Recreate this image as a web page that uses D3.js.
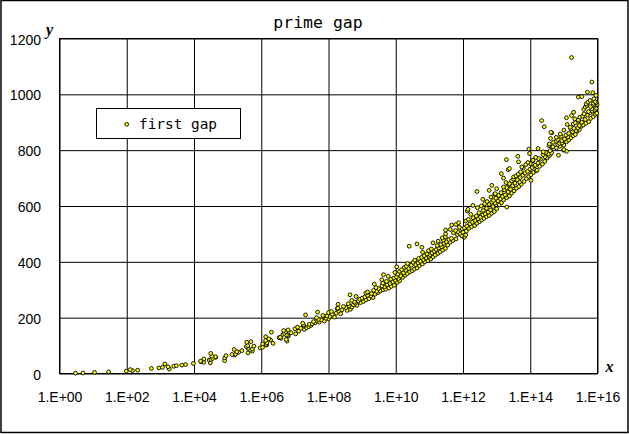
<!DOCTYPE html>
<html>
<head>
<meta charset="utf-8">
<script src="https://cdn.jsdelivr.net/npm/d3@7"></script>
<style>
  body { margin: 0; background: #fff; }
  svg { display: block; }
</style>
</head>
<body>
<div id="container"></div>
<script>
const width = 629;
const height = 434;
const plot = { left: 59.5, right: 597.5, top: 38.5, bottom: 373.5 };

// [next prime after the gap, gap size]
const gapsBelow1e7 = [
  [3, 1], [5, 2], [11, 4], [29, 6], [97, 8], [149, 10], [211, 12], [127, 14],
  [1847, 16], [541, 18], [907, 20], [1151, 22], [1693, 24], [2503, 26], [2999, 28],
  [4327, 30], [5623, 32], [1361, 34], [9587, 36], [30631, 38], [19373, 40],
  [16183, 42], [15727, 44], [81509, 46], [28277, 48], [31957, 50], [19661, 52],
  [35671, 54], [82129, 56], [44351, 58], [43391, 60], [34123, 62], [89753, 64],
  [162209, 66], [134581, 68], [173429, 70], [31469, 72], [404671, 74], [212777, 76],
  [188107, 78], [542683, 80], [265703, 82], [461801, 84], [156007, 86], [544367, 88],
  [404941, 90], [927961, 92], [1101071, 94], [360749, 96], [604171, 98], [396833, 100],
  [1444411, 102], [1388587, 104], [1098953, 106], [2238931, 108], [1468387, 110],
  [370373, 112], [492227, 114], [5845309, 116], [1349651, 118], [1895479, 120],
  [5518809, 122], [1671905, 124], [3851585, 126]
];

const gaps1e7to1e10 = [
  [3.4e6, 128], [3.7e6, 130], [1.36e6, 132], [6.4e6, 134], [6.1e6, 136], [5.6e6, 138],
  [4.4e6, 140], [1.06e7, 142], [4.9e6, 144], [7.7e6, 146], [2.01e6, 148], [5.4e6, 150],
  [1.3e7, 152], [4.65e6, 154], [6.3e6, 156], [1.9e7, 158], [1.0e7, 160], [1.5e7, 162],
  [2.2e7, 164], [1.2e7, 166], [2.6e7, 168], [1.85e7, 170], [3.0e7, 172], [1.8e7, 174],
  [2.7e7, 176], [3.3e7, 178], [1.71e7, 180], [4.0e7, 182], [5.3e7, 184], [3.6e7, 186],
  [7.5e7, 188], [4.6e7, 190], [6.1e7, 192], [5.0e7, 194], [1.0e8, 196], [8.5e7, 198],
  [4.4e7, 200], [1.5e8, 202], [1.1e8, 204], [9.0e7, 206], [6.8e7, 208], [2.08e7, 210],
  [1.3e8, 212], [2.3e8, 214], [1.7e8, 216], [1.0e8, 218], [4.73e7, 220], [1.22e8, 222],
  [2.0e8, 224], [3.6e8, 226], [2.5e8, 228], [4.5e8, 230], [1.8e8, 232], [1.9e8, 234],
  [3.3e8, 236], [5.0e8, 238], [2.8e8, 240], [4.1e8, 242], [7.0e8, 244], [5.5e8, 246],
  [1.92e8, 248], [3.87e8, 250], [6.3e8, 252], [9.0e8, 254], [5.9e8, 256], [1.1e9, 258],
  [7.7e8, 260], [4.9e8, 262], [1.3e9, 264], [8.5e8, 266], [1.6e9, 268], [1.0e9, 270],
  [2.1e9, 272], [1.2e9, 274], [6.6e8, 276], [1.8e9, 278], [1.45e9, 280], [4.36e8, 282],
  [2.4e9, 284], [1.9e9, 286], [1.29e9, 288], [3.0e9, 290], [1.45e9, 292], [2.7e9, 294],
  [3.5e9, 296], [2.2e9, 298], [4.2e9, 300]
];

const gaps1e10to1e12 = [
  [5.0e9, 302], [3.1e9, 304], [6.2e9, 306], [2.6e9, 308], [4.6e9, 310], [7.4e9, 312],
  [3.9e9, 314], [9.0e9, 316], [5.6e9, 318], [2.30e9, 320], [6.8e9, 322], [4.1e9, 324],
  [1.1e10, 326], [8.2e9, 328], [5.3e9, 330], [1.3e10, 332], [9.6e9, 334], [3.84e9, 336],
  [7.1e9, 338], [1.2e10, 340], [8.8e9, 342], [1.6e10, 344], [1.05e10, 346], [6.0e9, 348],
  [1.4e10, 350], [1.9e10, 352], [4.30e9, 354], [1.15e10, 356], [2.2e10, 358], [1.7e10, 360],
  [9.4e9, 362], [2.6e10, 364], [1.3e10, 366], [3.1e10, 368], [2.0e10, 370], [1.5e10, 372],
  [3.6e10, 374], [2.4e10, 376], [4.3e10, 378], [1.8e10, 380], [1.07e10, 382], [2.07e10, 384],
  [5.0e10, 386], [2.9e10, 388], [3.9e10, 390], [6.2e10, 392], [2.24e10, 394], [4.6e10, 396],
  [3.3e10, 398], [7.3e10, 400], [5.4e10, 402], [9.0e10, 404], [3.7e10, 406], [6.6e10, 408],
  [1.1e11, 410], [4.8e10, 412], [8.0e10, 414], [5.9e10, 416], [1.3e11, 418], [9.8e10, 420],
  [7.0e10, 422], [1.5e11, 424], [1.05e11, 426], [8.5e10, 428], [1.8e11, 430], [1.2e11, 432],
  [6.3e10, 434], [2.1e11, 436], [1.4e11, 438], [9.4e10, 440], [2.5e11, 442], [1.6e11, 444],
  [1.15e11, 446], [3.0e11, 448], [1.9e11, 450], [6.0e10, 452], [2.3e11, 454], [2.51e10, 456],
  [1.7e11, 458], [3.5e11, 460], [2.2e11, 462], [4.27e10, 464], [2.7e11, 466], [1.28e11, 468],
  [4.1e11, 470], [3.2e11, 472], [1.82e11, 474], [5.0e11, 476], [2.6e11, 478], [3.8e11, 480],
  [6.2e11, 482], [4.5e11, 484], [2.41e11, 486], [1.1e12, 488], [2.98e11, 490], [9.5e11, 492],
  [9.0e11, 494], [1.2e12, 496], [6.8e11, 498], [3.03e11, 500]
];

const gaps1e12to1e14 = [
  [8.0e11, 502], [5.2e11, 504], [1.0e12, 506], [7.0e11, 508], [1.25e12, 510], [6.0e11, 512],
  [3.05e11, 514], [4.17e11, 516], [9.5e11, 518], [1.5e12, 520], [1.1e12, 522], [7.8e11, 524],
  [1.8e12, 526], [1.3e12, 528], [2.2e12, 530], [4.62e11, 532], [6.14e11, 534], [1.6e12, 536],
  [2.6e12, 538], [7.39e11, 540], [1.9e12, 542], [3.1e12, 544], [1.2e12, 546], [2.3e12, 548],
  [3.6e12, 550], [1.45e12, 552], [2.8e12, 554], [4.2e12, 556], [2.0e12, 558], [3.3e12, 560],
  [5.0e12, 562], [2.5e12, 564], [6.0e12, 566], [3.9e12, 568], [1.7e12, 570], [4.6e12, 572],
  [7.1e12, 574], [3.0e12, 576], [5.6e12, 578], [8.5e12, 580], [1.35e12, 582], [4.0e12, 584],
  [6.6e12, 586], [1.41e12, 588], [1.0e13, 590], [5.0e12, 592], [2.7e12, 594], [2.0e13, 596],
  [7.8e12, 598], [3.5e12, 600], [1.97e12, 602], [1.2e13, 604], [6.0e12, 606], [4.4e12, 608],
  [9.0e12, 610], [1.4e13, 612], [7.2e12, 614], [5.2e12, 616], [1.1e13, 618], [8.1e12, 620],
  [1.6e13, 622], [3.9e12, 624], [1.3e13, 626], [9.5e12, 628], [2.0e13, 630], [6.8e12, 632],
  [1.5e13, 634], [2.4e13, 636], [1.15e13, 638], [1.8e13, 640], [8.7e12, 642], [9.1e12, 644],
  [2.8e13, 646], [1.35e13, 648], [2.2e13, 650], [2.61e12, 652], [3.3e13, 654], [6.0e12, 656],
  [1.7e13, 658], [2.6e13, 660], [1.0e13, 662], [3.9e13, 664], [2.0e13, 666], [1.6e13, 668],
  [4.6e13, 670], [3.0e13, 672], [7.18e12, 674], [2.3e13, 676], [5.4e13, 678], [2.4e13, 680],
  [3.5e13, 682], [1.9e13, 684], [4.8e13, 686], [6.5e13, 688], [2.8e13, 690], [1.05e14, 692],
  [4.1e13, 694], [3.2e13, 696], [7.7e13, 698], [1.6e13, 700]
];

const gaps1e14to1e16 = [
  [5.0e13, 702], [3.2e13, 704], [9.0e13, 706], [3.8e13, 708], [6.0e13, 710], [1.05e14, 712],
  [4.4e13, 714], [1.38e13, 716], [7.0e13, 718], [1.25e14, 720], [5.2e13, 722], [8.3e13, 724],
  [1.5e14, 726], [1.6e14, 728], [2.2e13, 730], [9.8e13, 732], [2.4e13, 734], [6.2e13, 736],
  [1.15e14, 738], [5.6e13, 740], [1.9e14, 742], [1.35e14, 744], [1.4e14, 746], [7.3e13, 748],
  [2.3e14, 750], [1.0e14, 752], [1.7e14, 754], [8.5e13, 756], [4.5e13, 758], [2.7e14, 760],
  [1.2e14, 762], [1.2e14, 764], [1.96e13, 766], [2.0e14, 768], [1.75e14, 770], [3.2e14, 772],
  [1.45e14, 774], [2.75e14, 776], [4.28e13, 778], [3.7e14, 780], [6.9e14, 782], [2.4e14, 784],
  [3.5e14, 786], [9.5e13, 788], [4.3e14, 790], [2.9e14, 792], [2.45e14, 794], [1.2e15, 796],
  [3.9e14, 798], [9.8e14, 800], [1.0e15, 802], [9.09e13, 804], [1.71e14, 806], [6.0e14, 808],
  [4.5e14, 810], [4.7e14, 812], [7.6e14, 814], [3.6e14, 816], [1.0e15, 818], [6.6e14, 820],
  [3.7e14, 822], [7.4e14, 824], [8.8e14, 826], [4.9e14, 828], [1.2e15, 830], [5.9e14, 832],
  [8.7e14, 834], [1.4e15, 836], [6.5e14, 838], [1.05e15, 840], [4.0e14, 842], [1.6e15, 844],
  [5.9e14, 846], [1.3e15, 848], [8.2e14, 850], [1.9e15, 852], [1.15e15, 854], [2.2e15, 856],
  [7.8e14, 858], [1.4e15, 860], [4.4e14, 862], [4.1e14, 864], [1.8e15, 866], [2.5e15, 868],
  [2.3e15, 870], [1.0e15, 872], [2.9e15, 874], [1.6e15, 876], [2.0e15, 878], [2.6e15, 880],
  [1.55e15, 882], [2.6e14, 884], [3.3e15, 886], [2.9e15, 888], [3.8e15, 890], [1.25e15, 892],
  [1.9e15, 894], [4.5e15, 896], [2.2e15, 898], [3.4e15, 900]
];

const gapsAbove900 = [
  [5.5e15, 902], [2.7e15, 904], [2.18e14, 906], [2.7e15, 908], [4.3e15, 910], [2.1e15, 912],
  [6.3e15, 914], [1.19e15, 916], [3.0e15, 918], [7.5e15, 920], [3.6e15, 922], [1.69e15, 924],
  [5.0e15, 926], [8.6e15, 928], [4.0e15, 930], [9.5e15, 932], [6.0e15, 934], [1.95e15, 936],
  [5.4e15, 938], [7.0e15, 940], [8.2e15, 944], [3.9e15, 946], [6.8e15, 948], [9.0e15, 950],
  [4.3e15, 954], [6.2e15, 956], [8.0e15, 958], [4.8e15, 960], [7.6e15, 962], [9.7e15, 964],
  [4.6e15, 966], [7.6e15, 968], [9.1e15, 970], [5.2e15, 972], [8.5e15, 974], [6.0e15, 978],
  [7.8e15, 984], [2.7e15, 990], [3.4e15, 992], [9.0e15, 996], [7.2e15, 1006], [5.0e15, 1008],
  [6.8e15, 1044], [1.69e15, 1132]
];

const firstGap = [].concat(gapsBelow1e7, gaps1e7to1e10, gaps1e10to1e12,
  gaps1e12to1e14, gaps1e14to1e16, gapsAbove900);

const xTicks = [1, 1e2, 1e4, 1e6, 1e8, 1e10, 1e12, 1e14, 1e16];
const yTicks = [0, 200, 400, 600, 800, 1000, 1200];

const svg = d3.select("#container").append("svg")
  .attr("width", width)
  .attr("height", height);

svg.append("rect")
  .attr("x", 1).attr("y", 0.5)
  .attr("width", 627).attr("height", 432)
  .attr("fill", "#fff")
  .attr("stroke", "#000")
  .attr("stroke-width", 1.5);

const x = d3.scaleLog().domain([1, 1e16]).range([plot.left, plot.right]);
const y = d3.scaleLinear().domain([0, 1200]).range([plot.bottom, plot.top]);

// grid
svg.append("g")
  .attr("transform", `translate(0,${plot.bottom})`)
  .call(d3.axisBottom(x).tickValues(xTicks).tickSize(-(plot.bottom - plot.top)).tickFormat(""))
  .call(g => g.select(".domain").remove())
  .call(g => g.selectAll("line").attr("stroke", "#000"));

svg.append("g")
  .attr("transform", `translate(${plot.left},0)`)
  .call(d3.axisLeft(y).tickValues(yTicks).tickSize(-(plot.right - plot.left)).tickFormat(""))
  .call(g => g.select(".domain").remove())
  .call(g => g.selectAll("line").attr("stroke", "#000"));

svg.append("rect")
  .attr("x", plot.left).attr("y", plot.top)
  .attr("width", plot.right - plot.left).attr("height", plot.bottom - plot.top)
  .attr("fill", "none").attr("stroke", "#000");

// tick labels
const fmtX = d => "1.E+" + String(Math.round(Math.log10(d))).padStart(2, "0");

svg.append("g")
  .attr("transform", `translate(0,${plot.bottom})`)
  .call(d3.axisBottom(x).tickValues(xTicks).tickSize(0).tickFormat(fmtX))
  .call(g => g.select(".domain").remove())
  .call(g => g.selectAll("text")
    .attr("y", 28).attr("dy", null)
    .attr("fill", "#000")
    .style("font", "14px 'Liberation Sans', Arial, sans-serif"));

svg.append("g")
  .attr("transform", `translate(${plot.left},0)`)
  .call(d3.axisLeft(y).tickValues(yTicks).tickSize(0).tickPadding(18.5).tickFormat(d3.format("d")))
  .call(g => g.select(".domain").remove())
  .call(g => g.selectAll("text")
    .attr("dy", null).attr("y", 5.5)
    .attr("fill", "#000")
    .style("font", "14px 'Liberation Sans', Arial, sans-serif"));

// title and axis names
svg.append("text")
  .attr("x", 318).attr("y", 27.5)
  .attr("text-anchor", "middle")
  .style("font", "16.5px 'DejaVu Sans Mono', monospace")
  .text("prime gap");

svg.append("text")
  .attr("x", 49.5).attr("y", 35)
  .attr("text-anchor", "middle")
  .style("font", "italic bold 16px 'Liberation Serif', serif")
  .text("y");

svg.append("text")
  .attr("x", 609.5).attr("y", 372)
  .attr("text-anchor", "middle")
  .style("font", "italic bold 16px 'Liberation Serif', serif")
  .text("x");

// points
svg.append("g")
  .selectAll("circle")
  .data(firstGap)
  .enter()
  .append("circle")
  .attr("cx", d => x(d[0]))
  .attr("cy", d => y(d[1]))
  .attr("r", 1.9)
  .attr("fill", "#ffff00")
  .attr("stroke", "#000")
  .attr("stroke-width", 0.9);

// legend
const legend = svg.append("g");
legend.append("rect")
  .attr("x", 96.5).attr("y", 108.5)
  .attr("width", 144).attr("height", 30)
  .attr("fill", "#fff").attr("stroke", "#000");
legend.append("circle")
  .attr("cx", 126.7).attr("cy", 124.3)
  .attr("r", 1.9)
  .attr("fill", "#ffff00")
  .attr("stroke", "#000")
  .attr("stroke-width", 0.9);
legend.append("text")
  .attr("x", 139).attr("y", 128.5)
  .style("font", "14.4px 'DejaVu Sans Mono', monospace")
  .text("first gap");
</script>
</body>
</html>
